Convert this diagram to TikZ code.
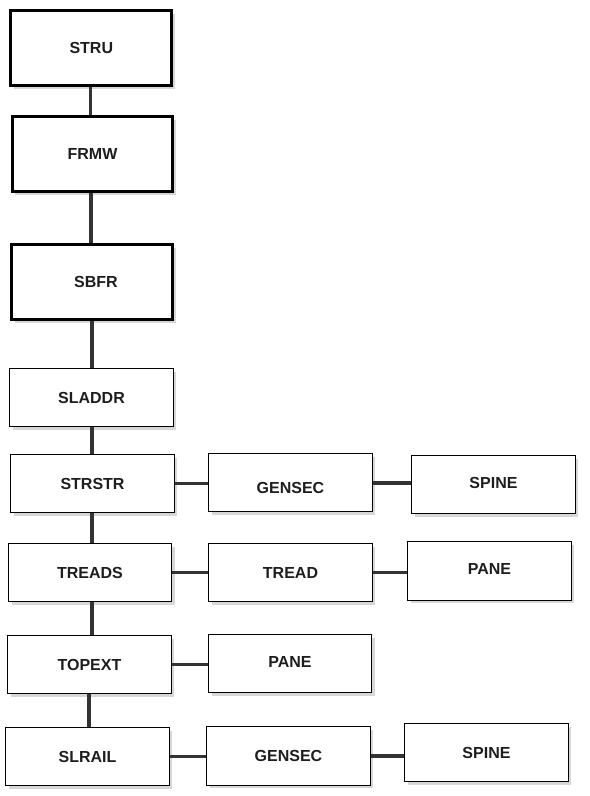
\documentclass[tikz,border=0pt]{standalone}
\usepackage{fontspec}
\setmainfont{Liberation Sans}
\usepackage{tikz}
\usetikzlibrary{calc,shadows}
\definecolor{linkgray}{HTML}{333333}
\definecolor{textgray}{HTML}{1E1E1E}
\tikzset{
  part/.style={rectangle, draw=black, fill=white, line width=0.75pt,
    minimum width=122.5pt, minimum height=43.8pt, inner sep=0pt,
    font=\fontsize{12}{14}\selectfont\bfseries, text=textgray,
    drop shadow={shadow xshift=2.4pt, shadow yshift=-2.4pt, fill=black!35, opacity=.45}},
  mainpart/.style={part, line width=2.25pt, minimum width=120.5pt, minimum height=56.3pt}
}
\def\drawlink{\draw[color=linkgray, line width=2.3pt]}
\def\partnode{\node[part]}
\def\mainnode{\node[mainpart]}
% text whose baseline sits #1 below the middle of its box
\def\lowtext#1#2{\smash{\raisebox{-#1}{#2}}}

\begin{document}
\begin{tikzpicture}[x=0.75pt,y=-0.75pt]
\useasboundingbox (0,0) rectangle (589,796);

% ---------- the main chain down the left side
\mainnode (stru) at (91.3,48) {STRU};
\mainnode (frmw) at (92.5,154) {FRMW};
\mainnode (sbfr) at (92,282) {\hspace*{6pt}SBFR};
\partnode (sladdr) at (91.5,397.5) {SLADDR};
\partnode (strstr) at (92.5,483.5) {STRSTR};
\partnode (treads) at (90,572.5) {TREADS};
\partnode (topext) at (89.5,664.5) {TOPEXT};
\partnode (slrail) at (87.5,756.5) {SLRAIL};

% ---------- the branches to the right
\partnode (gensec) at (290.5,482.5) {\lowtext{8pt}{GENSEC}};
\partnode (spine) at (493.5,484.5) {\lowtext{3pt}{SPINE}};
\partnode (tread) at (290.5,572.5) {TREAD};
\partnode (pane) at (489.5,571) {\lowtext{2.8pt}{PANE}};
\partnode (topane) at (290,663.5) {\lowtext{3.2pt}{PANE}};
\partnode (railsec) at (288.5,756) {GENSEC};
\partnode (railspine) at (486.5,752.5) {SPINE};

% vertical links
\drawlink ($ (stru.south) + (-0.5,0) $) -- ($ (stru.south |- frmw.north) + (-0.5,0) $);
\drawlink ($ (frmw.south) + (-1.5,0) $) -- ($ (frmw.south |- sbfr.north) + (-1.5,0) $);
\drawlink (sbfr.south) -- (sbfr.south |- sladdr.north);
\drawlink ($ (sladdr.south) + (0.5,0) $) -- ($ (sladdr.south |- strstr.north) + (0.5,0) $);
\drawlink ($ (strstr.south) + (-0.5,0) $) -- ($ (strstr.south |- treads.north) + (-0.5,0) $);
\drawlink ($ (treads.south) + (2,0) $) -- ($ (treads.south |- topext.north) + (2,0) $);
\drawlink ($ (topext.south) + (-0.5,0) $) -- ($ (topext.south |- slrail.north) + (-0.5,0) $);

% horizontal links
\drawlink (strstr.east) -- (strstr.east -| gensec.west);
\drawlink ($ (gensec.east) + (0,0.5) $) -- ($ (gensec.east -| spine.west) + (0,0.5) $);
\drawlink (treads.east) -- (treads.east -| tread.west);
\drawlink (tread.east) -- (tread.east -| pane.west);
\drawlink (topext.east) -- (topext.east -| topane.west);
\drawlink (slrail.east) -- (slrail.east -| railsec.west);
\drawlink (railsec.east) -- (railsec.east -| railspine.west);
\end{tikzpicture}
\end{document}
